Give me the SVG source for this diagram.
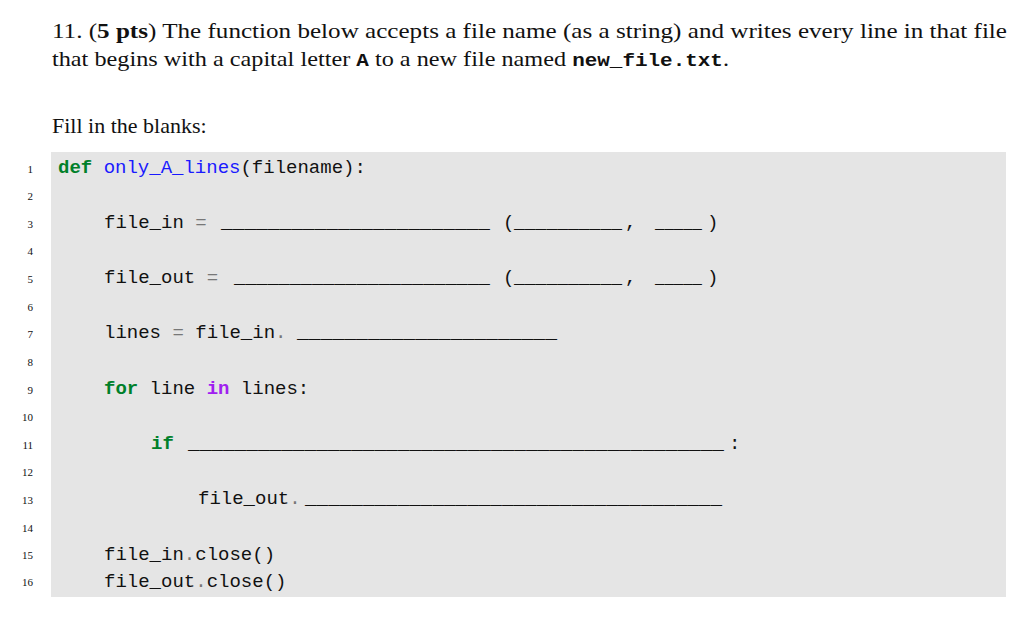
<svg xmlns="http://www.w3.org/2000/svg" width="1024" height="640" viewBox="0 0 1024 640">
<style>
.p{font-family:"Liberation Serif","DejaVu Serif",serif;font-size:22px;fill:#111}
.m{font-family:"Liberation Mono","DejaVu Sans Mono",monospace;font-size:19px;fill:#111}
.n{font-family:"Liberation Serif","DejaVu Serif",serif;font-size:11px;fill:#111;text-anchor:end}
.g{fill:#00802a;font-weight:bold}
.b{fill:#1a1aff}
.v{fill:#a020f0}
.o{fill:#777}
</style>
<rect width="1024" height="640" fill="#fff"/>
<text class="p" x="52" y="38" textLength="955" lengthAdjust="spacingAndGlyphs">11. (<tspan font-weight="bold">5 pts</tspan>) The function below accepts a file name (as a string) and writes every line in that file</text>
<text class="p" x="52" y="66" textLength="677" lengthAdjust="spacingAndGlyphs">that begins with a capital letter <tspan class="m" font-weight="bold">A</tspan> to a new file named <tspan class="m" font-weight="bold">new_file.txt</tspan>.</text>
<text class="p" x="52" y="133">Fill in the blanks:</text>
<rect x="51" y="152" width="955" height="445" fill="#e5e5e5"/>
<g>
<text class="n" x="33" y="173">1</text><text class="n" x="33" y="200">2</text><text class="n" x="33" y="228">3</text><text class="n" x="33" y="255">4</text>
<text class="n" x="33" y="283">5</text><text class="n" x="33" y="311">6</text><text class="n" x="33" y="338">7</text><text class="n" x="33" y="366">8</text>
<text class="n" x="33" y="394">9</text><text class="n" x="33" y="421">10</text><text class="n" x="33" y="449">11</text><text class="n" x="33" y="476">12</text>
<text class="n" x="33" y="504">13</text><text class="n" x="33" y="532">14</text><text class="n" x="33" y="559">15</text><text class="n" x="33" y="586">16</text>
</g>
<text class="m" x="58" y="173"><tspan class="g">def</tspan> <tspan class="b">only_A_lines</tspan>(filename):</text>
<text class="m" x="104" y="228">file_in <tspan class="o">=</tspan></text>
<text class="m" x="221" y="228" textLength="269" lengthAdjust="spacingAndGlyphs">_______________________</text>
<text class="m" x="503" y="228">(</text>
<text class="m" x="514" y="228" textLength="108" lengthAdjust="spacingAndGlyphs">__________</text>
<text class="m" x="625" y="228">,</text>
<text class="m" x="655" y="228" textLength="47" lengthAdjust="spacingAndGlyphs">_____</text>
<text class="m" x="707" y="228">)</text>
<text class="m" x="104" y="283">file_out <tspan class="o">=</tspan></text>
<text class="m" x="234" y="283" textLength="256" lengthAdjust="spacingAndGlyphs">_______________________</text>
<text class="m" x="503" y="283">(</text>
<text class="m" x="514" y="283" textLength="108" lengthAdjust="spacingAndGlyphs">__________</text>
<text class="m" x="625" y="283">,</text>
<text class="m" x="655" y="283" textLength="47" lengthAdjust="spacingAndGlyphs">_____</text>
<text class="m" x="707" y="283">)</text>
<text class="m" x="104" y="338">lines <tspan class="o">=</tspan> file_in<tspan class="o">.</tspan></text>
<text class="m" x="297" y="338" textLength="260" lengthAdjust="spacingAndGlyphs">______________________</text>
<text class="m" x="104" y="394"><tspan class="g">for</tspan> line <tspan class="v" font-weight="bold">in</tspan> lines:</text>
<text class="m" x="151" y="449"><tspan class="g">if</tspan></text>
<text class="m" x="188" y="449" textLength="536" lengthAdjust="spacingAndGlyphs">______________________________________________</text>
<text class="m" x="729" y="449">:</text>
<text class="m" x="198" y="504">file_out<tspan class="o">.</tspan></text>
<text class="m" x="305" y="504" textLength="417" lengthAdjust="spacingAndGlyphs">____________________________________</text>
<text class="m" x="104" y="560">file_in<tspan class="o">.</tspan>close()</text>
<text class="m" x="104" y="587">file_out<tspan class="o">.</tspan>close()</text>
</svg>
